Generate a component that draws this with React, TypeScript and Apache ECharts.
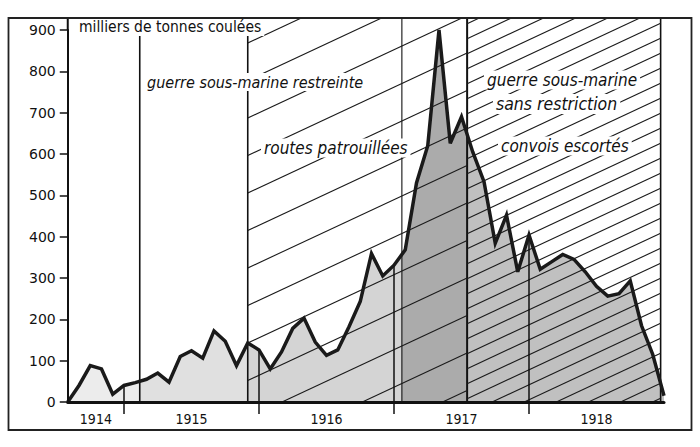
import React, { useEffect, useRef } from "react";
import * as echarts from "echarts";

// Monthly tonnage sunk (thousands of tonnes), month ends from July 1914 (index 0) to December 1918 (index 53)
const tonnage = [
  0, 40, 88, 80, 19, 40,
  47, 55, 70, 48, 110, 124, 106, 172, 147, 88, 143, 126,
  80, 121, 178, 203, 145, 113, 126, 182, 243, 359, 305, 331,
  368, 530, 620, 900, 626, 690, 605, 533, 384, 452, 315, 404,
  321, 339, 357, 345, 315, 280, 256, 262, 293, 185, 115, 15,
];
const yearLabels = ["1914", "1915", "1916", "1917", "1918"];
const yearBounds = [0, 5, 17, 29, 41, 53];
const yTickValues = [0, 100, 200, 300, 400, 500, 600, 700, 800, 900];
// Period boundaries (in months): war phases drawn as vertical lines
const periodBounds = [6.4, 16, 29.7, 35.5, 52.7];
const unitLabel = "milliers de tonnes coulées";
const restrictedLabel = "guerre sous-marine restreinte";
const patrolLabel = "routes patrouillées";
const unrestrictedLabel1 = "guerre sous-marine";
const unrestrictedLabel2 = "sans restriction";
const convoyLabel = "convois escortés";

const FONT = '"DejaVu Sans Condensed", "Liberation Sans Narrow", "DejaVu Sans", sans-serif';
const FONT_WIDE = '"DejaVu Sans", "Liberation Sans", sans-serif';

export default function App() {
  const ref = useRef<HTMLDivElement>(null);
  useEffect(() => {
    if (!ref.current) return;
    const chart = echarts.init(ref.current, undefined, { renderer: "svg" });
    const seriesData = tonnage.map((v, i) => [i, v]);
    const yearCenters = yearLabels.map((_, i) => (yearBounds[i] + yearBounds[i + 1]) / 2);
    const inner = yearBounds.slice(1, -1);

    chart.setOption({
      animation: false,
      backgroundColor: "#fff",
      grid: { left: 67.75, right: 36, top: 30, bottom: 45 },
      xAxis: {
        type: "value",
        min: yearBounds[0],
        max: yearBounds[yearBounds.length - 1],
        z: 6,
        splitLine: { show: false },
        axisLine: { show: true, lineStyle: { color: "#111", width: 3 } },
        axisTick: {
          show: true,
          customValues: inner,
          length: 12,
          lineStyle: { color: "#111", width: 1.5 },
        },
        axisLabel: {
          customValues: yearCenters,
          formatter: (v: number) => {
            const i = yearCenters.findIndex((c) => Math.abs(c - v) < 0.01);
            return i >= 0 ? yearLabels[i] : "";
          },
          margin: 10,
          fontSize: 14,
          fontFamily: FONT,
          color: "#111",
        },
      },
      yAxis: {
        type: "value",
        min: 0,
        max: 900,
        interval: 100,
        z: 6,
        splitLine: { show: false },
        axisLine: { show: true, lineStyle: { color: "#111", width: 2 } },
        axisTick: { show: true, length: 8, lineStyle: { color: "#111", width: 1.5 } },
        axisLabel: {
          customValues: yTickValues,
          margin: 12,
          fontSize: 14,
          fontFamily: FONT_WIDE,
          color: "#111",
        },
      },
      visualMap: {
        type: "piecewise",
        show: false,
        dimension: 0,
        seriesIndex: 0,
        pieces: [
          { gte: 0, lt: periodBounds[0], color: "#ececec" },
          { gte: periodBounds[0], lt: periodBounds[1], color: "#e0e0e0" },
          { gte: periodBounds[1], lt: periodBounds[2], color: "#d4d4d4" },
          { gte: periodBounds[2], lt: periodBounds[3], color: "#ababab" },
          { gte: periodBounds[3], lte: 60, color: "#c0c0c0" },
        ],
        outOfRange: { color: "#d0d0d0" },
      },
      series: [
        {
          type: "line",
          data: seriesData,
          symbol: "none",
          silent: true,
          z: 1,
          lineStyle: { width: 0 },
          areaStyle: { opacity: 1 },
        },
        {
          type: "line",
          data: seriesData,
          symbol: "none",
          silent: true,
          z: 5,
          lineStyle: { color: "#1a1a1a", width: 3.5, join: "miter" },
          markLine: {
            silent: true,
            symbol: ["none", "none"],
            label: { show: false },
            lineStyle: { color: "#111", width: 1.5, type: "solid" },
            data: inner.map((m) => [{ coord: [m, 0] }, { coord: [m, tonnage[m]] }]),
          },
        },
      ],
    });

    const px = (m: number, v: number) =>
      chart.convertToPixel({ gridIndex: 0 } as any, [m, v]) as number[];
    const top = 18;
    const base = px(0, 0)[1];
    const x0 = px(0, 0)[0];
    const els: any[] = [];

    els.push({
      type: "rect",
      silent: true,
      z: 10,
      shape: { x: 8.5, y: 18, width: 683, height: 412 },
      style: { fill: "none", stroke: "#222", lineWidth: 1.8 },
    });
    els.push({
      type: "line",
      silent: true,
      z: 6,
      shape: { x1: x0, y1: top, x2: x0, y2: px(0, 900)[1] },
      style: { stroke: "#111", lineWidth: 2 },
    });
    const widths = [1.6, 1.6, 1.1, 2, 1.6];
    periodBounds.forEach((m, i) => {
      const x = px(m, 0)[0];
      els.push({
        type: "line",
        silent: true,
        z: 2,
        shape: { x1: x, y1: top, x2: x, y2: base },
        style: { stroke: "#111", lineWidth: widths[i] },
      });
    });

    const k = 0.467;
    const hatch = (xa: number, xb: number, spacing: number, refX: number, refY: number) => {
      const c0 = refY + k * (refX - xa);
      const cMin = top;
      const cMax = base + k * (xb - xa);
      const n0 = Math.ceil((cMin - c0) / spacing);
      const n1 = Math.floor((cMax - c0) / spacing);
      for (let n = n0; n <= n1; n++) {
        const c = c0 + n * spacing;
        const xs = Math.max(xa, xa + (c - base) / k);
        const xe = Math.min(xb, xa + (c - top) / k);
        if (xe <= xs) continue;
        els.push({
          type: "line",
          silent: true,
          z: 2,
          shape: { x1: xs, y1: c - k * (xs - xa), x2: xe, y2: c - k * (xe - xa) },
          style: { stroke: "#1a1a1a", lineWidth: 1.1 },
        });
      }
    };
    const xA = px(periodBounds[1], 0)[0];
    const xB = px(periodBounds[3], 0)[0];
    const xC = px(periodBounds[4], 0)[0];
    hatch(xA, xB, 37.5, xA, 43);
    hatch(xB, xC, 15, xC, 8.3);

    const txt = (text: string, x: number, y: number, italic: boolean, size: number) => ({
      type: "text",
      silent: true,
      z: 4,
      x,
      y,
      style: {
        text,
        fontSize: size,
        fontFamily: FONT,
        fontStyle: italic ? "italic" : "normal",
        fill: "#111",
        align: "left",
        verticalAlign: "middle",
        textAlign: "left",
        textVerticalAlign: "middle",
        backgroundColor: "#fff",
        padding: [1, 3],
      },
    });
    els.push(txt(unitLabel, 76, 27, false, 15.5));
    els.push(txt(restrictedLabel, 144, 82, true, 16));
    els.push(txt(patrolLabel, 261, 148, true, 17));
    els.push(txt(unrestrictedLabel1, 484, 80, true, 17));
    els.push(txt(unrestrictedLabel2, 493, 104, true, 17.5));
    els.push(txt(convoyLabel, 498, 146, true, 17));

    chart.setOption({ graphic: els });

    return () => chart.dispose();
  }, []);

  return (
    <div
      ref={ref}
      style={{ position: "fixed", left: 0, top: 0, width: 700, height: 447, background: "#fff" }}
    />
  );
}
